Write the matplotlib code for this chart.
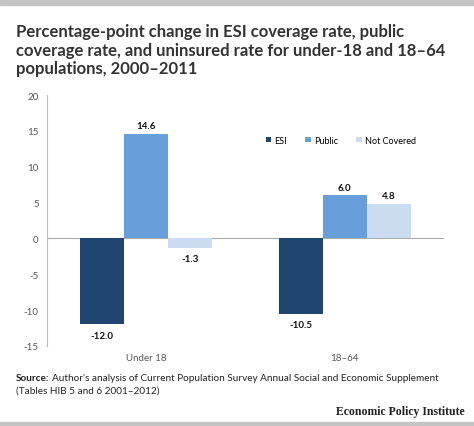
import numpy as np
import matplotlib.pyplot as plt

groups = ['Under 18', '18\u201364']
series = ['ESI', 'Public', 'Not Covered']
esi = [-12.0, -10.5]
public = [14.6, 6.0]
not_covered = [-1.3, 4.8]
yticks = [-15, -10, -5, 0, 5, 10, 15, 20]

colors = ['#1e4670', '#669fda', '#cbdcf1']

plt.rcParams['font.family'] = ['Lato', 'DejaVu Sans']

fig = plt.figure(figsize=(4.74, 4.27), dpi=100)
fig.patch.set_facecolor('white')

# gray bands top and bottom
fig.patches.append(plt.Rectangle((0, 1 - 6 / 427), 1, 6 / 427, transform=fig.transFigure,
                                 color='#c4c4c4', zorder=0))
fig.patches.append(plt.Rectangle((0, 0), 1, 4 / 427, transform=fig.transFigure,
                                 color='#c4c4c4', zorder=0))

fig.text(16 / 474, 1 - 24 / 427,
         'Percentage-point change in ESI coverage rate, public\n'
         'coverage rate, and uninsured rate for under-18 and 18\u201364\n'
         'populations, 2000\u20132011',
         fontsize=12, fontweight='bold', color='#333333', va='top',
         linespacing=1.2)

ax = fig.add_axes([47 / 474, 1 - 347 / 427, 397 / 474, 251 / 427])
x = np.arange(len(groups))
w = 0.221
for i, (vals, name) in enumerate(zip([esi, public, not_covered], series)):
    pos = x + (i - 1) * w
    ax.bar(pos, vals, width=w, color=colors[i], label=name, zorder=2)
    for p, v in zip(pos, vals):
        off = 0.5 if v >= 0 else -0.9
        ax.text(p, v + off, f'{v:.1f}', ha='center', va='bottom' if v >= 0 else 'top',
                fontsize=7, fontweight='bold', color='#111111')

ax.axhline(0, color='#aaaaaa', lw=0.8, zorder=1)
ax.set_xlim(-0.5, 1.5)
ax.set_ylim(-15, 20)
ax.set_yticks(yticks)
ax.set_yticklabels([str(t) for t in yticks])
ax.set_xticks(x)
ax.set_xticklabels(groups)
for s in ['top', 'right', 'bottom']:
    ax.spines[s].set_visible(False)
ax.spines['left'].set_color('#bbbbbb')
ax.tick_params(axis='y', length=0, labelsize=7, colors='#555555', pad=6)
ax.tick_params(axis='x', length=0, labelsize=7, colors='#555555', pad=5)

ax.legend(loc='upper left', bbox_to_anchor=(0.53, 0.87), ncol=3, frameon=False,
          fontsize=6.5, handlelength=0.6, handleheight=0.6, columnspacing=2.0,
          handletextpad=0.4)

src = fig.text(16 / 474, 1 - 381 / 427, 'Source:', fontsize=7.2, fontweight='bold',
               color='#222222', va='baseline')
fig.canvas.draw()
bb = src.get_window_extent()
fig.text((bb.x1 + 2) / fig.bbox.width, 1 - 381 / 427,
         "Author's analysis of Current Population Survey Annual Social and Economic Supplement",
         fontsize=7.2, color='#222222', va='baseline')
fig.text(16 / 474, 1 - 394 / 427, '(Tables HIB 5 and 6 2001\u20132012)',
         fontsize=7.2, color='#222222', va='baseline')
fig.text(465 / 474, 1 - 415 / 427, 'Economic Policy Institute', fontsize=8.5,
         fontweight='bold', family='Liberation Serif', ha='right', va='baseline',
         color='#222222')

fig.savefig('out.png', dpi=100)
